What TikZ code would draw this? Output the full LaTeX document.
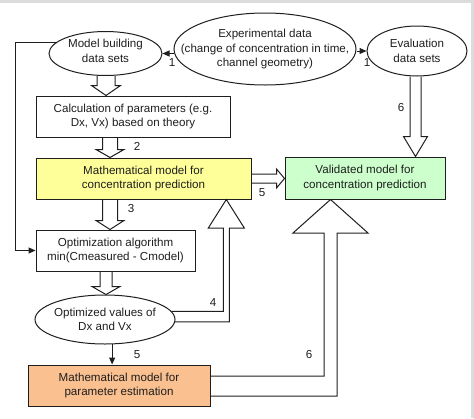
\documentclass[tikz,border=0pt]{standalone}
\usepackage{fontspec}
\setmainfont{Liberation Sans}
\usetikzlibrary{arrows.meta,calc,shapes.geometric}
\definecolor{lineclr}{HTML}{1E1E1E}
\definecolor{predfill}{HTML}{FFFF99}
\definecolor{validfill}{HTML}{CCFFCC}
\definecolor{estfill}{HTML}{FAC090}
\definecolor{edgegray}{HTML}{DCDCDC}

% hollow block arrow pointing down: x, from, to, shaft half, head half, head length
\newcommand{\downblock}[6]{%
  \draw[hollow] let \p1=(#2.south), \p2=(#3.north) in
    (#1pt-#4pt,\y1) -- (#1pt-#4pt,\y2+#6pt) -- (#1pt-#5pt,\y2+#6pt) -- (#1pt,\y2)
    -- (#1pt+#5pt,\y2+#6pt) -- (#1pt+#4pt,\y2+#6pt) -- (#1pt+#4pt,\y1);}

\begin{document}
\begin{tikzpicture}[
  x=1pt, y=-1pt,
  font=\fontsize{11.6}{14.3}\selectfont,
  box/.style={draw=lineclr, minimum height=41pt, inner sep=0pt, align=center},
  oval/.style={draw=lineclr, ellipse, inner sep=0pt},
  num/.style={inner sep=0pt},
  hollow/.style={draw=lineclr},
  >={Triangle[length=7pt,width=6pt]}, line width=1pt, lineclr
]
\useasboundingbox (0,0) rectangle (474,418);
\fill[edgegray] (0,0) rectangle (474,3);
\fill[edgegray] (471,0) rectangle (474,418);

\node[oval, minimum width=113pt, minimum height=44pt, label={[align=center,yshift=2.5pt]center:{Model building\\data sets}}] (mb) at (105.5,53.5) {};
\node[oval, minimum width=182pt, minimum height=72pt, label={[align=center]center:{Experimental data\\(change of concentration in time,\\channel geometry)}}] (exp) at (265,49) {};
\node[oval, minimum width=100pt, minimum height=50pt, label={[align=center]center:{Evaluation\\data sets}}] (eval) at (417,51) {};
\node[box, minimum width=194pt] (calc) at (133,116.5) {Calculation of parameters (e.g.\\Dx, Vx) based on theory};
\node[box, fill=predfill, minimum width=215pt] (mm) at (143.5,178.5) {Mathematical model for\\concentration prediction};
\node[box, fill=validfill, minimum width=160pt, minimum height=42pt] (val) at (365,178) {Validated model for\\concentration prediction};
\node[box, minimum width=159pt] (opt) at (115.5,250.5) {Optimization algorithm\\min(Cmeasured - Cmodel)};
\node[oval, minimum width=140pt, minimum height=49pt, label={[align=center]center:{Optimized values of\\Dx and Vx}}] (optv) at (105,319.5) {};
\node[box, fill=estfill, minimum width=182pt] (pe) at (119,385.5) {Mathematical model for\\parameter estimation};
\coordinate (fbx) at (15,0);

% thin arrows
\draw[->] (exp.west |- mb.east) -- (mb.east);
\draw[->] (exp.east |- eval.west) -- (eval.west);
\draw[->] (mb.167) -- (mb.167 -| fbx) |- (opt.west);
\draw[->] (optv.-74) -- (optv.-74 |- pe.north);

% block arrows
\downblock{106}{mb}{calc}{9}{14.5}{10}
\downblock{110}{calc}{mm}{7.5}{14}{8}
\downblock{110}{mm}{opt}{7.5}{14}{9}
\downblock{106}{opt}{optv}{6}{14}{8}
\downblock{415.5}{eval}{val}{5.5}{12}{20}
\draw[hollow] let \p1=(mm.east), \p2=(val.west) in
  (\x1,\y1+4.5pt) -- (\x2-8pt,\y1+4.5pt) -- (\x2-8pt,\y1+9.5pt) -- (\x2,\y1)
  -- (\x2-8pt,\y1-9.5pt) -- (\x2-8pt,\y1-4.5pt) -- (\x1,\y1-4.5pt);
\draw[hollow] let \p1=(optv.7), \p2=(optv.-2), \p3=(mm.south) in
  (\p1) -- (223.3pt,\y1) -- (223.3,228) -- (208.3,228) -- (226.3pt,\y3)
  -- (244.3,228) -- (229.3,228) -- (229.3pt,\y2) -- (\p2);
\draw[hollow] let \p1=(pe.east), \p3=(val.south) in
  (\x1,\y1+9.5pt) -- (324pt,\y1+9.5pt) -- (324,233) -- (293,233) -- (330.5pt,\y3)
  -- (368,233) -- (337,233) -- (337pt,\y1-10.5pt) -- (\x1,\y1-10.5pt);

% step numbers
\node[num] (n1a) at (172,63) {1};
\node[num] (n1b) at (367,63) {1};
\node[num] (n6a) at (401,108) {6};
\node[num] (n2) at (137,146) {2};
\node[num] (n5a) at (262,193) {5};
\node[num] (n3) at (131,209) {3};
\node[num] (n4) at (213,303) {4};
\node[num] (n5b) at (137,355) {5};
\node[num] (n6b) at (309,355) {6};
\end{tikzpicture}
\end{document}
